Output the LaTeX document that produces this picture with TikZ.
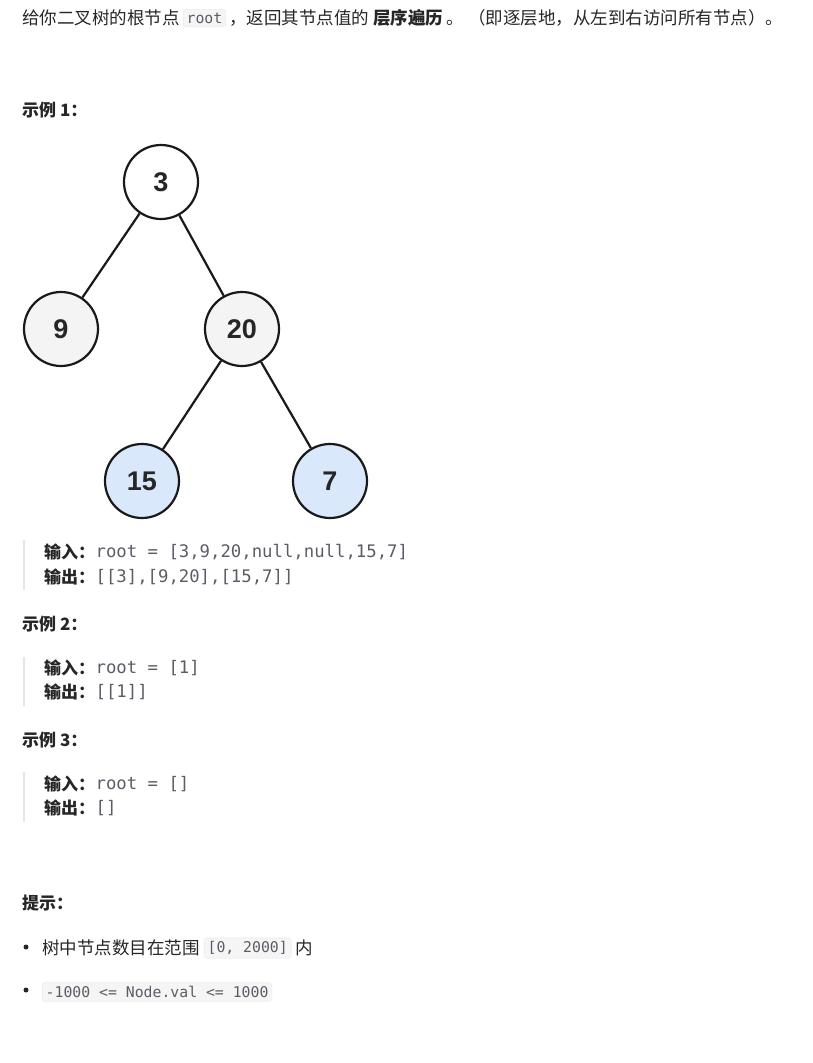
\documentclass[tikz,border=0pt]{standalone}
\usepackage{fontspec}
\setmainfont{Noto Sans CJK SC}
\setmonofont{DejaVu Sans Mono}
\setsansfont{Liberation Sans}
\usetikzlibrary{positioning}
\definecolor{txt}{HTML}{262626}
\definecolor{codegray}{HTML}{5C5C66}
\definecolor{codebg}{HTML}{F5F5F5}
\definecolor{codeline}{HTML}{E6E6E6}
\definecolor{nodegray}{HTML}{F4F4F4}
\definecolor{nodeblue}{HTML}{DAE8FC}
\begin{document}
\begin{tikzpicture}[
    x=1pt, y=-1pt,
    node distance=0pt,
    body/.style={anchor=west, inner sep=0pt, font=\fontsize{17.5}{20}\selectfont, text=txt},
    head/.style={body, font=\fontsize{17}{20}\selectfont\bfseries},
    code/.style={inner sep=3.5pt, rounded corners=3pt, fill=codebg, draw=codeline, font=\ttfamily\fontsize{14.8}{17}\selectfont, text=codegray},
    val/.style={anchor=west, inner sep=0pt, font=\ttfamily\fontsize{17.3}{20}\selectfont, text=codegray},
    tnode/.style={circle, draw=black!90, line width=2.2pt, minimum size=74pt, font=\sffamily\bfseries\fontsize{27}{30}\selectfont, text=black!85},
    edge/.style={line width=2.2pt, draw=black!90},
    bar/.style={line width=1.5pt, draw=codeline}
]
\useasboundingbox (0,0) rectangle (813,1063);

% Title line
\node[body] (t1) at (22,18) {给你二叉树的根节点};
\node[code, right=3pt of t1] (troot) {root};
\node[body, right=3pt of troot] (t2) {，返回其节点值的 \textbf{层序遍历} 。 （即逐层地，从左到右访问所有节点）。};

% Example 1
\node[head] (ex1) at (22,110) {示例 1：};
\node[tnode, fill=white] (n3) at (161,182) {3};
\node[tnode, fill=nodegray] (n9) at (61,329) {9};
\node[tnode, fill=nodegray] (n20) at (242,329) {20};
\node[tnode, fill=nodeblue] (n15) at (142,481) {15};
\node[tnode, fill=nodeblue] (n7) at (330,481) {7};
\draw[edge] (n3) -- (n9);
\draw[edge] (n3) -- (n20);
\draw[edge] (n20) -- (n15);
\draw[edge] (n20) -- (n7);

\coordinate (b1a) at (24,540);
\coordinate (b1b) at (24,590);
\draw[bar] (b1a) -- (b1b);
\node[head] (in1) at (44,552) {输入：};
\node[val, right=0pt of in1] {root = [3,9,20,null,null,15,7]};
\node[head] (out1) at (44,577) {输出：};
\node[val, right=0pt of out1] {[[3],[9,20],[15,7]]};

% Example 2
\node[head] (ex2) at (22,624) {示例 2：};
\coordinate (b2a) at (24,657);
\coordinate (b2b) at (24,706);
\draw[bar] (b2a) -- (b2b);
\node[head] (in2) at (44,668) {输入：};
\node[val, right=0pt of in2] {root = [1]};
\node[head] (out2) at (44,692) {输出：};
\node[val, right=0pt of out2] {[[1]]};

% Example 3
\node[head] (ex3) at (22,740) {示例 3：};
\coordinate (b3a) at (24,772);
\coordinate (b3b) at (24,822);
\draw[bar] (b3a) -- (b3b);
\node[head] (in3) at (44,784) {输入：};
\node[val, right=0pt of in3] {root = []};
\node[head] (out3) at (44,808) {输出：};
\node[val, right=0pt of out3] {[]};

% Hints
\node[head] (hint) at (22,903) {提示：};
\node[circle, fill=txt, inner sep=0pt, minimum size=5pt] (d1) at (26,947) {};
\node[body] (h1) at (42,948) {树中节点数目在范围};
\node[code, right=4pt of h1] (c1) {[0, 2000]};
\node[body, right=4pt of c1] {内};
\node[circle, fill=txt, inner sep=0pt, minimum size=5pt] (d2) at (26,990) {};
\node[code, anchor=west] (c2) at (42,992) {-1000 <= Node.val <= 1000};
\end{tikzpicture}
\end{document}
